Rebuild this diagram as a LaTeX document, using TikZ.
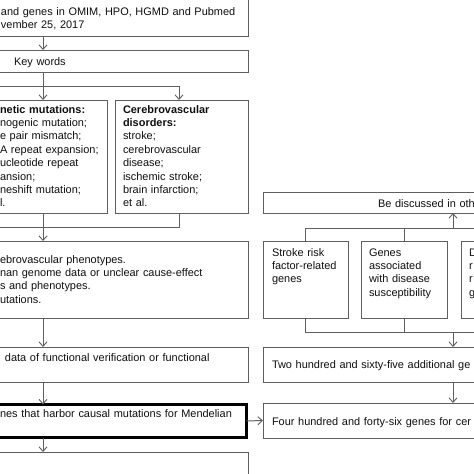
\documentclass[tikz,border=0pt]{standalone}
\usepackage{fontspec}
\setmainfont{Liberation Sans}
\usetikzlibrary{arrows.meta}
\definecolor{linegray}{RGB}{95,95,95}
\definecolor{textblack}{RGB}{15,15,15}
\begin{document}
\begin{tikzpicture}[x=1pt,y=-1pt,
  box/.style={draw=linegray, line width=1pt, rectangle, inner sep=0pt, outer sep=0pt},
  thickbox/.style={draw=black, line width=3.2pt, rectangle, inner sep=0pt, outer sep=0pt},
  txt/.style={font=\fontsize{10.95}{13.4}\selectfont, text=textblack, inner sep=0pt, outer sep=0pt, anchor=base west, align=left, text width=320pt},
  conn/.style={draw=linegray, line width=1pt},
  arr/.style={conn, -{Straight Barb[length=4.5pt,width=8pt,line width=0.9pt]}}]
\useasboundingbox (0,0) rectangle (474,474);
\clip (0,0) rectangle (474,474);
\fill[white] (0,0) rectangle (474,474);
% columns and free ends
\coordinate (colL) at (43,0);
\coordinate (colR) at (179,0);
\coordinate (colA) at (453,0);
\coordinate (brL) at (-5,86);
\coordinate (mgL) at (-5,227);
\coordinate (trR) at (480,228);
\coordinate (brR) at (480,332);
% boxes (left column)
\node[box, minimum width=268pt, minimum height=41pt] (top) at (114,15.5) {};
\node[box, minimum width=268pt, minimum height=22pt] (kw) at (114,61) {};
\node[box, minimum width=127pt, minimum height=113pt] (gen) at (43.5,156.5) {};
\node[box, minimum width=133pt, minimum height=113pt] (cer) at (181.5,156.5) {};
\node[box, minimum width=268pt, minimum height=77pt] (pheno) at (114,279.5) {};
\node[box, minimum width=268pt, minimum height=35pt] (func) at (114,364.5) {};
\node[thickbox, minimum width=266.5pt, minimum height=33pt] (thick) at (113.25,421) {};
\node[box, minimum width=268pt, minimum height=38pt] (bot) at (114,471) {};
% boxes (right column)
\node[box, minimum width=227pt, minimum height=21pt] (disc) at (376.5,202.5) {};
\node[box, minimum width=85pt, minimum height=77pt] (s1) at (305.5,279.5) {};
\node[box, minimum width=86pt, minimum height=77pt] (s2) at (404,279.5) {};
\node[box, minimum width=99pt, minimum height=77pt] (s3) at (510.5,279.5) {};
\node[box, minimum width=227pt, minimum height=35pt] (two) at (376.5,364.5) {};
\node[box, minimum width=227pt, minimum height=35pt] (four) at (376.5,420.5) {};
% texts
\node[txt] (ttop) at (1,15.5) {and genes in OMIM, HPO, HGMD and Pubmed\\vember 25, 2017};
\node[txt] (tkw) at (14,65) {Key words};
\node[txt] (tgen) at (0,113) {\textbf{netic mutations:}\\nogenic mutation;\\e pair mismatch;\\A repeat expansion;\\ucleotide repeat\\ansion;\\neshift mutation;\\l.};
\node[txt] (tcer) at (123,113) {\textbf{Cerebrovascular}\\\textbf{disorders:}\\stroke;\\cerebrovascular\\disease;\\ischemic stroke;\\brain infarction;\\et al.};
\node[txt] (tpheno) at (0,263) {ebrovascular phenotypes.\\nan genome data or unclear cause-effect\\s and phenotypes.\\utations.};
\node[txt] (tfunc) at (5,361) {data of functional verification or functional};
\node[txt] (tthick) at (0,417) {nes that harbor causal mutations for Mendelian};
\node[txt] (tdisc) at (378,207) {Be discussed in oth};
\node[txt] (ts1) at (272,256) {Stroke risk\\factor-related\\genes};
\node[txt] (ts2) at (369,256) {Genes\\associated\\with disease\\susceptibility};
\node[txt] (ts3) at (469,256) {D\\r\\r\\g};
\node[txt] (ttwo) at (272,368) {Two hundred and sixty-five additional ge};
\node[txt] (tfour) at (272,425) {Four hundred and forty-six genes for cer};
% connectors (left)
\draw[arr] (top.south -| colL) -- (kw.north -| colL);
\draw[arr] (kw.south -| colL) -- (gen.north -| colL);
\draw[arr] (brL) -| (cer.north -| colR);
\draw[arr] (gen.south -| colL) -- (pheno.north -| colL);
\draw[conn] (cer.south -| colR) |- (mgL);
\draw[arr] (pheno.south -| colL) -- (func.north -| colL);
\draw[arr] (func.south -| colL) -- (thick.north -| colL);
\draw[arr] (thick.south -| colL) -- (bot.north -| colL);
\draw[arr] (thick.east) -- (four.west);
% connectors (right)
\draw[conn] (s1.north) |- (trR);
\draw[conn] (s2.north) -- (s2.north |- trR);
\draw[arr] (trR -| colA) -- (disc.south -| colA);
\draw[conn] (s1.south) |- (brR);
\draw[conn] (s2.south) -- (s2.south |- brR);
\draw[arr] (brR -| colA) -- (two.north -| colA);
\draw[arr] (two.south -| colA) -- (four.north -| colA);
\end{tikzpicture}
\end{document}
